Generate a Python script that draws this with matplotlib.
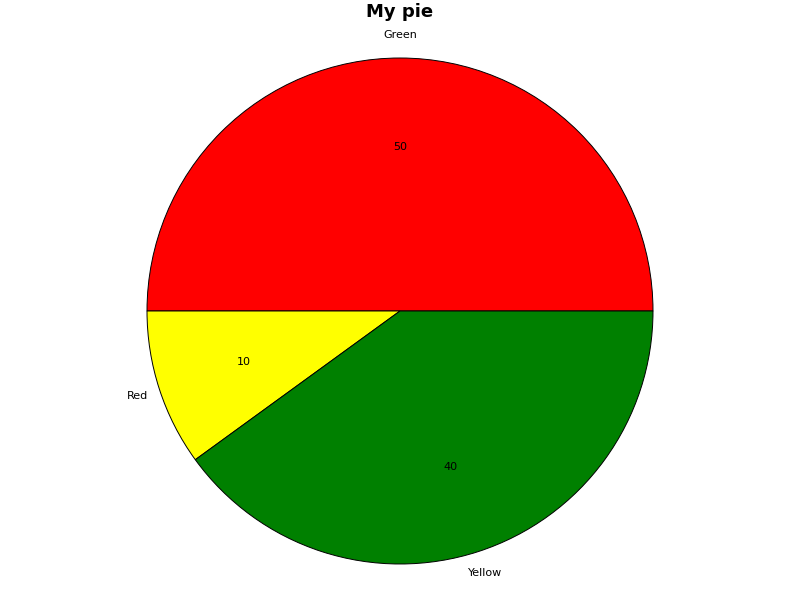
import matplotlib
matplotlib.use("Agg")
import matplotlib.pyplot as plt

labels = ["Green", "Red", "Yellow"]
values = [50, 10, 40]
colors = ["#ff0000", "#ffff00", "#008000"]

fig = plt.figure(figsize=(8, 6), dpi=100)
ax = fig.add_axes([0, 0, 1, 1])
R = 253.0
ax.pie(values, labels=labels, colors=colors, startangle=0, counterclock=True,
       autopct=lambda p: f"{p * sum(values) / 100:.0f}",
       pctdistance=0.65, labeldistance=1.09,
       wedgeprops=dict(edgecolor="black", linewidth=0.7),
       textprops=dict(fontsize=8, color="black"))
for t in ax.texts:
    t.set_horizontalalignment("center")
    t.set_verticalalignment("center")
ax.set_xlim(-400 / R, 400 / R)
ax.set_ylim(-289 / R, 311 / R)
ax.set_aspect("auto")
ax.axis("off")
fig.text(0.5, 1 - 12 / 600, "My pie", ha="center", va="center",
         fontsize=13, fontweight="bold")
fig.savefig("out.png", dpi=100)
